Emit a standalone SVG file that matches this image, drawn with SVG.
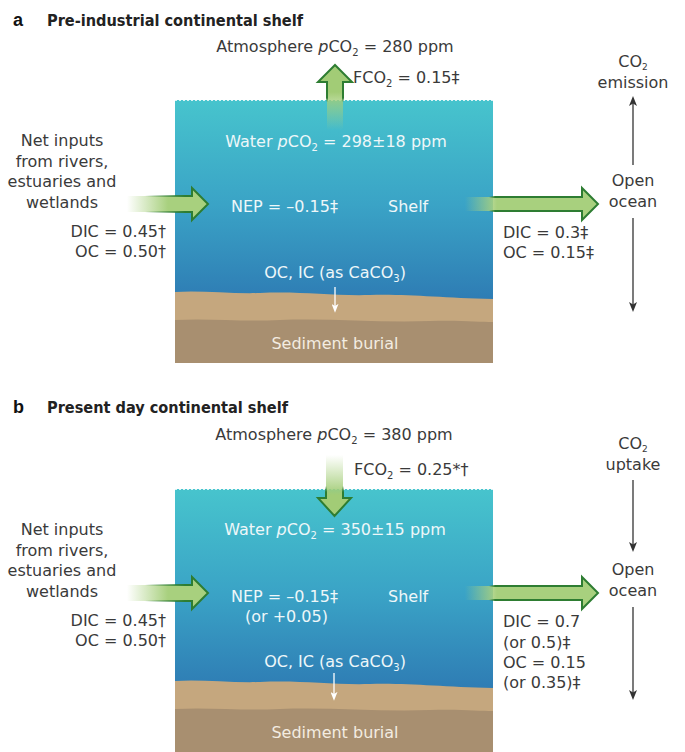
<svg xmlns="http://www.w3.org/2000/svg" width="685" height="752" viewBox="0 0 685 752">
<style>
.t{font-family:"DejaVu Sans","Liberation Sans",sans-serif;font-size:16px;fill:#3a3a3a}
.w{fill:#eef7f9}
.s{fill:#f3ece1}
.c{text-anchor:middle}
.e{text-anchor:end}
.h{font-family:"DejaVu Sans Condensed","DejaVu Sans",sans-serif;font-weight:bold;font-size:16px;fill:#222}
.lab{font-family:"Liberation Sans",Arial,sans-serif;font-weight:bold;font-size:18px;fill:#111}
.sub{font-size:10px}
.sub2{font-size:9px}
.it{font-style:italic}
.thin{stroke:#333;stroke-width:1.3;fill:none}
.wthin{stroke:#fff;stroke-width:1.3;fill:none}
.dot{stroke:#fff;stroke-width:1;stroke-dasharray:2 2;opacity:0.8}
.sand{fill:#c5a77e}
.deep{fill:#a88f70}
</style>
<defs>
<linearGradient id="water" x1="0" y1="0" x2="0" y2="1">
<stop offset="0" stop-color="#47c4cd"/>
<stop offset="0.5" stop-color="#3aa3c6"/>
<stop offset="1" stop-color="#2d78b2"/>
</linearGradient>
<linearGradient id="gInL" gradientUnits="userSpaceOnUse" x1="127" y1="0" x2="168" y2="0">
<stop offset="0" stop-color="#a8d07e" stop-opacity="0"/><stop offset="1" stop-color="#a8d07e"/>
</linearGradient>
<linearGradient id="sInL" gradientUnits="userSpaceOnUse" x1="145" y1="0" x2="185" y2="0">
<stop offset="0" stop-color="#2e7d32" stop-opacity="0"/><stop offset="1" stop-color="#2e7d32"/>
</linearGradient>
<linearGradient id="gOut" gradientUnits="userSpaceOnUse" x1="465" y1="0" x2="497" y2="0">
<stop offset="0" stop-color="#a8d07e" stop-opacity="0"/><stop offset="1" stop-color="#a8d07e"/>
</linearGradient>
<linearGradient id="sOut" gradientUnits="userSpaceOnUse" x1="489" y1="0" x2="495" y2="0">
<stop offset="0" stop-color="#2e7d32" stop-opacity="0"/><stop offset="1" stop-color="#2e7d32"/>
</linearGradient>
<linearGradient id="gUp" gradientUnits="userSpaceOnUse" x1="0" y1="130" x2="0" y2="92">
<stop offset="0" stop-color="#a8d07e" stop-opacity="0"/><stop offset="1" stop-color="#a2cc76"/>
</linearGradient>
<linearGradient id="sUp" gradientUnits="userSpaceOnUse" x1="0" y1="102" x2="0" y2="98">
<stop offset="0" stop-color="#2e7d32" stop-opacity="0"/><stop offset="1" stop-color="#2e7d32"/>
</linearGradient>
<linearGradient id="gDown" gradientUnits="userSpaceOnUse" x1="0" y1="455" x2="0" y2="495">
<stop offset="0" stop-color="#a8d07e" stop-opacity="0"/><stop offset="1" stop-color="#a2cc76"/>
</linearGradient>
<linearGradient id="sDown" gradientUnits="userSpaceOnUse" x1="0" y1="486" x2="0" y2="492">
<stop offset="0" stop-color="#2e7d32" stop-opacity="0"/><stop offset="1" stop-color="#2e7d32"/>
</linearGradient>
<marker id="ah" viewBox="0 0 10 8" refX="7" refY="4" markerWidth="10" markerHeight="8" markerUnits="userSpaceOnUse" orient="auto">
<path d="M0,0 L10,4 L0,8 L2.5,4 z" fill="#333"/>
</marker>
<marker id="wah" viewBox="0 0 10 8" refX="7" refY="4" markerWidth="9" markerHeight="7" markerUnits="userSpaceOnUse" orient="auto">
<path d="M0,0 L10,4 L0,8 L2.5,4 z" fill="#fff"/>
</marker>
</defs>

<!-- ===== Panel a ===== -->
<g id="a-title">
<text class="lab" x="13" y="26">a</text>
<text class="h" x="47" y="26" textLength="256" lengthAdjust="spacingAndGlyphs">Pre-industrial continental shelf</text>
</g>
<g id="a-atmosphere">
<text class="t c" x="335" y="52">Atmosphere <tspan class="it">p</tspan>CO<tspan class="sub" dy="4">2</tspan><tspan dy="-4"> = 280 ppm</tspan></text>
</g>
<g id="a-shelf">
<rect x="175" y="100" width="318" height="210" fill="url(#water)"/>
<line class="dot" x1="175" y1="100.5" x2="493" y2="100.5"/>
<path class="sand" d="M175,292 C200,290 230,294 260,293 C300,291 330,296 370,295 C410,294 440,298 493,299 L493,363 L175,363 Z"/>
<path class="deep" d="M175,320 C210,318 240,322 280,320 C330,318 380,323 430,321 C460,320 480,322 493,322 L493,363 L175,363 Z"/>
<text class="t c w" x="336" y="147">Water <tspan class="it">p</tspan>CO<tspan class="sub" dy="4">2</tspan><tspan dy="-4"> = 298±18 ppm</tspan></text>
<text class="t w" x="231" y="212">NEP = –0.15‡</text>
<text class="t w" x="388" y="212">Shelf</text>
<text class="t c w" x="335" y="278">OC, IC (as CaCO<tspan class="sub" dy="4">3</tspan><tspan dy="-4">)</tspan></text>
<text class="t c s" x="335" y="349">Sediment burial</text>
</g>
<g id="a-inputs">
<text class="t c" x="62" y="146">Net inputs</text>
<text class="t c" x="62" y="166.5">from rivers,</text>
<text class="t c" x="62" y="187">estuaries and</text>
<text class="t c" x="62" y="207.5">wetlands</text>
<text class="t e" x="166" y="237">DIC = 0.45†</text>
<text class="t e" x="166" y="257">OC = 0.50†</text>
</g>
<g id="a-ocean">
<text class="t c" x="633" y="67">CO<tspan class="sub2" dy="3">2</tspan></text>
<text class="t c" x="633" y="88">emission</text>
<text class="t c" x="633" y="186">Open</text>
<text class="t c" x="633" y="207">ocean</text>
<text class="t" x="503" y="238">DIC = 0.3‡</text>
<text class="t" x="503" y="258">OC = 0.15‡</text>
</g>
<g id="a-flux-labels">
<text class="t" x="353" y="83">FCO<tspan class="sub" dy="4">2</tspan><tspan dy="-4"> = 0.15‡</tspan></text>
</g>
<g id="a-connectors">
<path d="M127,196 L192,196 L192,188 L208,204 L192,220 L192,212 L127,212 Z" fill="url(#gInL)" stroke="url(#sInL)" stroke-width="2" stroke-linejoin="miter"/>
<path d="M465,197 L582,197 L582,188 L598,204 L582,220 L582,211 L465,211 Z" fill="url(#gOut)" stroke="url(#sOut)" stroke-width="2"/>
<path d="M327,130 L327,82 L318,82 L335,65 L352,82 L343,82 L343,130 Z" fill="url(#gUp)" stroke="url(#sUp)" stroke-width="2"/>
<line class="thin" x1="633" y1="165" x2="633" y2="99" marker-end="url(#ah)"/>
<line class="thin" x1="633" y1="218" x2="633" y2="309" marker-end="url(#ah)"/>
<line class="wthin" x1="335" y1="287" x2="335" y2="310" marker-end="url(#wah)"/>
</g>

<!-- ===== Panel b ===== -->
<g id="b-title">
<text class="lab" x="13" y="413">b</text>
<text class="h" x="47" y="413" textLength="241" lengthAdjust="spacingAndGlyphs">Present day continental shelf</text>
</g>
<g id="b-atmosphere">
<text class="t c" x="334" y="440">Atmosphere <tspan class="it">p</tspan>CO<tspan class="sub" dy="4">2</tspan><tspan dy="-4"> = 380 ppm</tspan></text>
</g>
<g id="b-shelf">
<rect x="175" y="489" width="318" height="210" fill="url(#water)"/>
<line class="dot" x1="175" y1="489.5" x2="493" y2="489.5"/>
<path class="sand" d="M175,681 C200,679 230,683 260,682 C300,680 330,685 370,684 C410,683 440,687 493,688 L493,752 L175,752 Z"/>
<path class="deep" d="M175,709 C210,707 240,711 280,709 C330,707 380,712 430,710 C460,709 480,711 493,711 L493,752 L175,752 Z"/>
<text class="t c w" x="335" y="535">Water <tspan class="it">p</tspan>CO<tspan class="sub" dy="4">2</tspan><tspan dy="-4"> = 350±15 ppm</tspan></text>
<text class="t w" x="231" y="602">NEP = –0.15‡</text>
<text class="t w" x="245" y="622">(or +0.05)</text>
<text class="t w" x="388" y="602">Shelf</text>
<text class="t c w" x="335" y="667">OC, IC (as CaCO<tspan class="sub" dy="4">3</tspan><tspan dy="-4">)</tspan></text>
<text class="t c s" x="335" y="738">Sediment burial</text>
</g>
<g id="b-inputs">
<text class="t c" x="62" y="535">Net inputs</text>
<text class="t c" x="62" y="555.5">from rivers,</text>
<text class="t c" x="62" y="576">estuaries and</text>
<text class="t c" x="62" y="596.5">wetlands</text>
<text class="t e" x="166" y="626">DIC = 0.45†</text>
<text class="t e" x="166" y="646">OC = 0.50†</text>
</g>
<g id="b-ocean">
<text class="t c" x="633" y="449">CO<tspan class="sub2" dy="3">2</tspan></text>
<text class="t c" x="633" y="470">uptake</text>
<text class="t c" x="633" y="575">Open</text>
<text class="t c" x="633" y="596">ocean</text>
<text class="t" x="503" y="627">DIC = 0.7</text>
<text class="t" x="503" y="647.5">(or 0.5)‡</text>
<text class="t" x="503" y="668">OC = 0.15</text>
<text class="t" x="503" y="688">(or 0.35)‡</text>
</g>
<g id="b-flux-labels">
<text class="t" x="354" y="475">FCO<tspan class="sub" dy="4">2</tspan><tspan dy="-4"> = 0.25*†</tspan></text>
</g>
<g id="b-connectors">
<path d="M127,585 L192,585 L192,577 L208,593 L192,609 L192,601 L127,601 Z" fill="url(#gInL)" stroke="url(#sInL)" stroke-width="2"/>
<path d="M465,586 L582,586 L582,577 L598,593 L582,609 L582,600 L465,600 Z" fill="url(#gOut)" stroke="url(#sOut)" stroke-width="2"/>
<path d="M326,455 L343,455 L343,498 L351,498 L334.5,516 L318,498 L326,498 Z" fill="url(#gDown)" stroke="url(#sDown)" stroke-width="2"/>
<line class="thin" x1="633" y1="480" x2="633" y2="549" marker-end="url(#ah)"/>
<line class="thin" x1="633" y1="607" x2="633" y2="697" marker-end="url(#ah)"/>
<line class="wthin" x1="334" y1="673" x2="334" y2="698" marker-end="url(#wah)"/>
</g>
</svg>
